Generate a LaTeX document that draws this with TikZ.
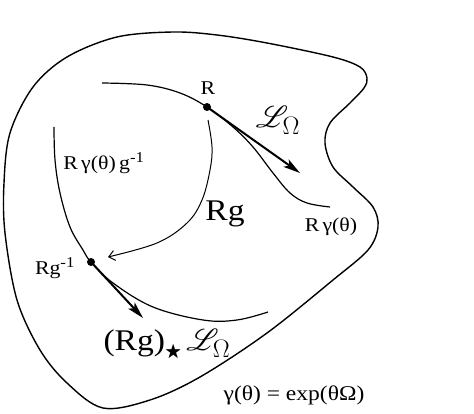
\documentclass[tikz,border=0pt]{standalone}
\usepackage{amssymb}
\usepackage{fontspec}
\setmainfont[FakeStretch=1.12]{Liberation Serif}
\usepackage{mathrsfs}
\usetikzlibrary{arrows.meta}
\tikzset{
  curveline/.style={line width=1.2pt},
  bigarrow/.style={line width=2pt,-{Stealth[length=17pt,width=9pt,inset=4pt]}},
  thinarrow/.style={line width=1pt,-{Straight Barb[length=6pt,width=10pt]}},
  dotnode/.style={circle,fill=black,inner sep=0pt,minimum size=8pt},
  smalllbl/.style={font=\fontsize{19.5}{21}\selectfont,inner sep=0pt},
  biglbl/.style={font=\fontsize{30}{32}\selectfont,inner sep=0pt},
}
\newcommand{\supm}{\textsuperscript{\fontsize{15}{15}\selectfont -1}}
\newcommand{\LOm}{\scalebox{1.22}{\fontsize{24.88}{26}\selectfont$\mathscr{L}_{\Omega}$}}
\begin{document}
\begin{tikzpicture}[x=1pt,y=-1pt]
\useasboundingbox (0,0) rectangle (474,414);
% outer blob
\draw[line width=1.4pt] plot[smooth cycle, tension=0.55] coordinates {
 (173,32) (217,35) (267,43) (333,57) (360,67) (367,78) (364,88) (350,103)
 (330,123) (325,143) (333,167) (353,187) (373,207) (378,227) (368,250)
 (333,280) (267,333) (200,377) (150,400) (103,408) (67,383) (40,350)
 (17,300) (5,233) (4,183) (10,133) (33,87) (67,57) (117,37)};
% points
\coordinate (pR) at (207,107);
\coordinate (pRg) at (91,262);
\coordinate (tipL) at (300,173);
\coordinate (tipLg) at (143,318);
\coordinate (rgA) at (208,120);
\coordinate (rgB) at (108,257);
% top curve through R
\draw[curveline] plot[smooth, tension=0.6] coordinates {
 (102,83) (147,85) (180,93) (pR) (233,127) (253,147) (273,173) (290,193) (307,203) (330,207)};
% left curve through Rg^-1
\draw[curveline] plot[smooth, tension=0.6] coordinates {
 (54,127) (55,160) (60,193) (70,227) (83,250) (pRg) (113,283) (153,307) (203,320) (237,320) (268,312)};
% Rg arrow
\draw[thinarrow] plot[smooth, tension=0.6] coordinates {
 (rgA) (212,147) (210,170) (202,200) (187,223) (157,243) (rgB)};
% tangent arrows
\draw[bigarrow] (pR) -- (tipL);
\draw[bigarrow] (pRg) -- (tipLg);
\node[dotnode] (R) at (pR) {};
\node[dotnode] (Rg) at (pRg) {};
% labels
\node[smalllbl] (lR) at (208,88) {R};
\node[smalllbl] (lRgam) at (331,227) {R\,γ(θ)};
\node[smalllbl] (lRgamg) at (104,163) {R\,γ(θ)\,g\supm};
\node[smalllbl] (lRginv) at (55,268) {Rg\supm};
\node[inner sep=0pt] (lL) at (278,120) {\LOm};
\node[biglbl] (lRgbig) at (225,214) {Rg};
\node[biglbl] (lpush) at (167,345) {(Rg)\raisebox{-6pt}{\fontsize{17.28}{17}\selectfont$\bigstar$}\,\LOm};
\node[font=\fontsize{21}{23}\selectfont,inner sep=0pt] (lgam) at (294,395) {γ(θ) = exp(θΩ)};
\end{tikzpicture}
\end{document}
